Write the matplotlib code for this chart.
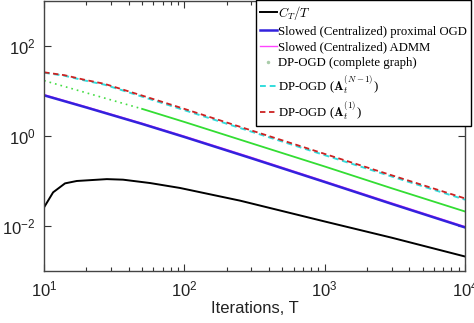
import matplotlib
matplotlib.use("Agg")
import matplotlib.pyplot as plt
from matplotlib.ticker import LogLocator, FixedLocator, FuncFormatter, NullFormatter
from matplotlib.lines import Line2D
import numpy as np

plt.rcParams["mathtext.fontset"] = "cm"
plt.rcParams["font.family"] = ["Liberation Sans", "DejaVu Sans"]

# Regret rate versus iterations T
T_ct = [10, 11.6, 14.1, 17.1, 28, 36.5, 57, 93, 250, 1000, 3000, 10000]
ct_over_T = [0.026, 0.056, 0.0885, 0.100, 0.110, 0.107, 0.090, 0.070, 0.0365, 0.0126, 0.0055, 0.0021]

T_grid = [10, 20, 50, 100, 300, 1000, 3000, 10000]
prox_ogd = [8.0, 4.3, 1.85, 0.95, 0.32, 0.095, 0.031, 0.0093]
admm = [8.3, 4.45, 1.92, 0.99, 0.335, 0.099, 0.0325, 0.0097]
dp_complete = [17.0, 9.1, 4.0, 2.05, 0.69, 0.21, 0.069, 0.021]

T_dp = [10, 14, 19, 27, 67, 100, 300, 1000, 3000, 10000]
dp_a_n1 = [25.5, 21.8, 17.4, 13.8, 5.6, 3.75, 1.25, 0.375, 0.126, 0.0385]
dp_a_1 = [26.0, 22.4, 18.0, 14.4, 5.94, 4.0, 1.33, 0.40, 0.134, 0.041]

# complete-graph curve shows as sparse dots at small T, continuous afterwards
dot_split_T = 50

fig = plt.figure(figsize=(4.74, 3.23), dpi=100)
ax = fig.add_axes([0.093, 0.161, 0.888, 0.836])

ax.plot(T_ct, ct_over_T, color="black", lw=1.4)
ax.plot(T_grid, admm, color="#ff44ff", lw=1.0)
ax.plot(T_grid, prox_ogd, color="#3322dd", lw=1.8)

Tc = np.array(T_grid, dtype=float)
dc = np.array(dp_complete)
k = int(np.searchsorted(Tc, dot_split_T))
ax.plot(Tc[:k + 1], dc[:k + 1], color="#44dd44", lw=1.2, ls=(0, (1, 2.4)))
ax.plot(Tc[k:], dc[k:], color="#33dd33", lw=1.3)

ax.plot(T_dp, dp_a_n1, color="#33dddd", lw=1.4, ls=(0, (3, 2)))
ax.plot(T_dp, dp_a_1, color="#cc2222", lw=1.3, ls=(0, (3, 2)))

ax.set_xscale("log")
ax.set_yscale("log")
ax.set_xlim(10, 1e4)
ax.set_ylim(1e-3, 1e3)

def pow_fmt(v, pos):
    e = int(round(np.log10(v)))
    return r"$\mathregular{10^{%d}}$" % e

ax.xaxis.set_major_locator(FixedLocator([10, 100, 1000, 10000]))
ax.xaxis.set_minor_locator(LogLocator(base=10, subs=np.arange(2, 10)))
ax.xaxis.set_minor_formatter(NullFormatter())
ax.xaxis.set_major_formatter(FuncFormatter(pow_fmt))
ax.yaxis.set_major_locator(FixedLocator([1e-2, 1e0, 1e2]))
ax.yaxis.set_minor_locator(FixedLocator([]))
ax.yaxis.set_major_formatter(FuncFormatter(pow_fmt))

ax.tick_params(which="both", direction="in", top=True, right=True,
               colors="#333333", labelcolor="#222222", labelsize=12)
ax.tick_params(which="major", length=5, width=0.8, pad=6)
ax.tick_params(which="minor", length=3, width=0.8)
for s in ax.spines.values():
    s.set_color("#444444")
    s.set_linewidth(1.0)

ax.set_xlabel("Iterations, T", fontsize=12, color="#222222", labelpad=1)
ax.set_ylabel("Regret rate", fontsize=12, color="#222222", labelpad=2)

handles = [
    Line2D([], [], color="black", lw=1.4),
    Line2D([], [], color="#3322dd", lw=1.8),
    Line2D([], [], color="#ff44ff", lw=1.0),
    Line2D([], [], color="#aaccaa", ls="none", marker=".", markersize=3),
    Line2D([], [], color="#33dddd", lw=1.4, ls=(0, (3, 2))),
    Line2D([], [], color="#cc2222", lw=1.3, ls=(0, (3, 2))),
]
labels = [
    r"$C_T/T$",
    "Slowed (Centralized) proximal OGD",
    "Slowed (Centralized) ADMM",
    "DP-OGD (complete graph)",
    r"DP-OGD ($\mathbf{A}_t^{(N-1)}$)",
    r"DP-OGD ($\mathbf{A}_t^{(1)}$)",
]
leg = fig.legend(handles, labels, loc="upper right", bbox_to_anchor=(0.993, 1.0),
                 prop={"family": "Liberation Serif", "size": 9.2},
                 frameon=True, fancybox=False, edgecolor="black", framealpha=1,
                 handlelength=1.3, handletextpad=0.1, labelspacing=0.3,
                 borderpad=0.3, borderaxespad=0.0)
leg.get_frame().set_linewidth(1.0)

fig.savefig("out.png", dpi=100)
